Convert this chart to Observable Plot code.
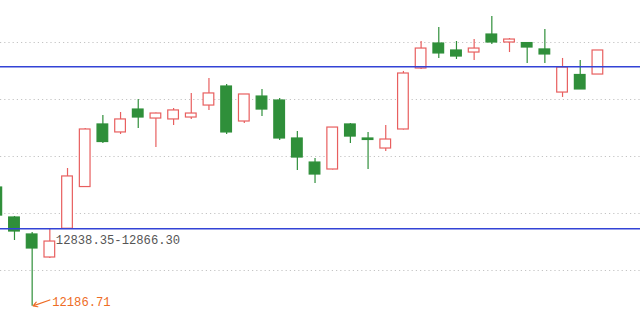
<!DOCTYPE html>
<html>
<head>
<meta charset="utf-8">
<script src="https://cdn.jsdelivr.net/npm/d3@7"></script>
<script src="https://cdn.jsdelivr.net/npm/@observablehq/plot@0.6"></script>
<style>
  html, body { margin: 0; padding: 0; background: #fff; }
  #chart svg { display: block; }
</style>
</head>
<body>
<div id="chart"></div>
<script>
const open  = [13228,12965,12816,12614,12866,13232,13781,13711,13912,13833,13825,13842,13947,14114,13807,14026,13991,13658,13447,13386,13781,13658,13570,13737,14272,14491,14430,14412,14570,14500,14495,14439,14061,14215,14219];
const high  = [13263,12974,12833,12860,13395,13746,13860,13886,14000,13882,13921,14053,14184,14132,14044,14088,14009,13719,13482,13754,13789,13711,13772,14246,14509,14632,14509,14526,14728,14535,14500,14614,14360,14342,14430];
const low   = [12956,12763,12186.71,12605,12860,13228,13614,13693,13746,13579,13772,13825,13904,13693,13789,13851,13640,13377,13263,13382,13614,13386,13544,13732,14263,14360,14351,14342,14482,14412,14316,14316,14018,14088,14219];
const close = [12982,12842,12693,12754,13325,13737,13627,13825,13842,13877,13904,13877,14053,13711,14044,13912,13658,13491,13342,13754,13675,13645,13649,14228,14447,14404,14377,14447,14500,14526,14456,14395,14281,14088,14430];
const gridLevels = [12500, 13000, 13500, 14000, 14500];
const blueLevels = [12866.30, 14287];
const rangeLabel = "12838.35-12866.30";
const lowValue = 12186.71;
const lowLabel = "12186.71";
const lowIndex = 2;

const candles = open.map((o, i) => ({i, open: o, high: high[i], low: low[i], close: close[i], up: close[i] >= o}));
const RED = "#e85f5f", GREEN = "#2f8f3a";

const chart = Plot.plot({
  width: 640,
  height: 319,
  margin: 0,
  x: {domain: [0, 34], range: [-3.7, 597.4], axis: null},
  y: {domain: [12500, 14500], range: [270, 42], axis: null},
  style: {background: "#fff", overflow: "hidden"},
  marks: [
    Plot.ruleY(gridLevels, {stroke: "#c4c4c4", strokeDasharray: "1.2,3", strokeWidth: 1.2}),
    Plot.ruleX(candles, {x: "i", y1: "low", y2: "high", stroke: d => d.up ? RED : GREEN, strokeWidth: 1.2}),
    Plot.rect(candles, {
      x1: d => d.i - 0.5, x2: d => d.i + 0.5,
      y1: d => Math.min(d.open, d.close), y2: d => Math.max(d.open, d.close),
      insetLeft: 3.5, insetRight: 3.5,
      fill: d => d.up ? "#fff" : GREEN,
      stroke: d => d.up ? RED : GREEN,
      strokeWidth: 1.2
    }),
    Plot.ruleY(blueLevels, {stroke: "#3343d6", strokeWidth: 1.5}),
    Plot.text([rangeLabel], {
      x: () => 3, y: () => blueLevels[0], text: d => d,
      textAnchor: "start", dx: 6, dy: 11,
      fill: "#555", fontSize: 12.2, fontFamily: "Liberation Mono, DejaVu Sans Mono, monospace"
    }),
    Plot.arrow([lowValue], {
      x1: () => lowIndex + 1, y1: d => d + 55,
      x2: () => lowIndex, y2: d => d,
      stroke: "#ee6c25", strokeWidth: 1.2, headLength: 6, insetEnd: 1
    }),
    Plot.text([lowLabel], {
      x: () => lowIndex, y: () => lowValue, text: d => d,
      textAnchor: "start", dx: 20, dy: -4,
      fill: "#ee6c25", fontSize: 12.2, fontFamily: "Liberation Mono, DejaVu Sans Mono, monospace"
    })
  ]
});
document.getElementById("chart").appendChild(chart);
</script>
</body>
</html>
